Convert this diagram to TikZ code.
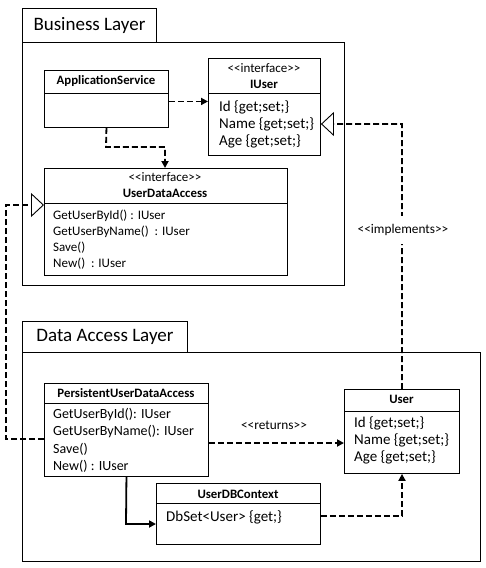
\documentclass[tikz,border=0pt]{standalone}
\usepackage{fontspec}
\setmainfont{Carlito}
\usetikzlibrary{arrows.meta}
\newcommand\lgl{<\kern0pt<}
\newcommand\rgl{>\kern0pt>}
\begin{document}
\begin{tikzpicture}[x=1pt,y=-1pt,
  frame/.style={draw,line width=0.9pt,anchor=north west,inner sep=0pt},
  cls/.style={draw,line width=0.9pt,anchor=north west,inner sep=0pt},
  divider/.style={line width=0.9pt},
  ttl/.style={font=\bfseries\fontsize{12.8}{14}\selectfont,inner sep=0pt},
  stereo/.style={font=\fontsize{13}{14}\selectfont,inner sep=0pt},
  attr/.style={font=\fontsize{15}{17}\selectfont,anchor=west,inner sep=0pt},
  meth/.style={font=\fontsize{13}{15}\selectfont,anchor=west,inner sep=0pt},
  pmeth/.style={font=\fontsize{14}{16}\selectfont,anchor=west,inner sep=0pt},
  layertitle/.style={font=\fontsize{19}{21}\selectfont,inner sep=0pt},
  dep/.style={line width=1.8pt,dash pattern=on 6pt off 3pt,-{Triangle[length=7pt,width=7pt]}},
  real/.style={line width=1.8pt,dash pattern=on 6pt off 3pt,-{Triangle[open,length=13pt,width=24pt,line width=0.9pt]}},
  assoc/.style={line width=1.8pt,-{Triangle[length=7pt,width=7pt]}},
  lbl/.style={font=\fontsize{13.3}{15}\selectfont,inner sep=0pt}
]
\useasboundingbox (0,0) rectangle (486,568);
% ---------- Business layer ----------
\node[frame,minimum width=134pt,minimum height=34pt] (bltab) at (22,8) {};
\node[layertitle] (bltext) at (bltab.center) {Business Layer};
\node[frame,minimum width=322pt,minimum height=243pt] (blframe) at (22,42) {};

% ApplicationService
\node[cls,minimum width=124pt,minimum height=57pt] (as) at (44,70) {};
\draw[divider] (44,93) -- (168,93);
\node[ttl] (astitle) at (106,81) {ApplicationService};

% IUser
\node[cls,minimum width=112pt,minimum height=97pt] (iuser) at (208,58) {};
\draw[divider] (208,93) -- (320,93);
\node[stereo] (iuserst) at (264,68) {\lgl interface\rgl};
\node[ttl] (iusertitle) at (264,84) {IUser};
\node[attr] (iu1) at (219,107) {Id \{get;set;\}};
\node[attr] (iu2) at (219,124) {Name \{get;set;\}};
\node[attr] (iu3) at (219,141) {Age \{get;set;\}};

% UserDataAccess
\node[cls,minimum width=243pt,minimum height=107pt] (uda) at (44,168) {};
\draw[divider] (44,203) -- (287,203);
\node[stereo] (udast) at (165,177) {\lgl interface\rgl};
\node[ttl] (udatitle) at (165,193) {UserDataAccess};
\node[meth] (ud1) at (53,216) {GetUserById() : IUser};
\node[meth] (ud2) at (53,232) {GetUserByName() \ : IUser};
\node[meth] (ud3) at (53,248) {Save()};
\node[meth] (ud4) at (53,264) {New() \ : IUser};

% ---------- Data access layer ----------
\node[frame,minimum width=165pt,minimum height=31pt] (daltab) at (22,321) {};
\node[layertitle] (daltext) at (daltab.center) {Data Access Layer};
\node[frame,minimum width=458pt,minimum height=209pt] (dalframe) at (22,352) {};

% PersistentUserDataAccess
\node[cls,minimum width=164pt,minimum height=93pt] (puda) at (44,383) {};
\draw[divider] (44,403) -- (208,403);
\node[ttl] (pudatitle) at (126,393) {PersistentUserDataAccess};
\node[pmeth] (pu1) at (53,415) {GetUserById(): IUser};
\node[pmeth] (pu2) at (53,432) {GetUserByName(): IUser};
\node[pmeth] (pu3) at (53,449) {Save()};
\node[pmeth] (pu4) at (53,466) {New() : IUser};

% User
\node[cls,minimum width=115pt,minimum height=84pt] (user) at (344,389) {};
\draw[divider] (344,411) -- (459,411);
\node[ttl] (usertitle) at (401.5,399) {User};
\node[attr] (us1) at (354,423) {Id \{get;set;\}};
\node[attr] (us2) at (354,440) {Name \{get;set;\}};
\node[attr] (us3) at (354,457) {Age \{get;set;\}};

% UserDBContext
\node[cls,minimum width=164pt,minimum height=61pt] (udbc) at (156,483) {};
\draw[divider] (156,503) -- (320,503);
\node[ttl] (udbctitle) at (238,494) {UserDBContext};
\node[attr] (udbc1) at (166,517) {DbSet<User> \{get;\}};

% ---------- Connectors ----------
\draw[dep] ([yshift=-2.5pt]as.east) -- ([yshift=-2.5pt]as.east -| iuser.west);
\coordinate (asturn1) at (106,147);
\coordinate (asturn2) at (165,147);
\draw[dep] (as.south) -- (asturn1) -- (asturn2) -- (asturn2 |- uda.north);

\coordinate (implturn) at (402,124);
\draw[real] (user.north) -- (implturn) -- (implturn -| iuser.east);
\node[lbl,fill=white,inner xsep=1pt,inner ysep=8pt] (impllbl) at (403,230) {\lgl implements\rgl};

\coordinate (lb) at (6,439);
\coordinate (lt) at (6,205);
\draw[real] (lb -| puda.west) -- (lb) -- (lt) -- (lt -| uda.west);

\draw[dep] (puda.east |- 0,443) -- (user.west |- 0,443);
\node[lbl] (retlbl) at (274,425) {\lgl returns\rgl};

\coordinate (pturn) at (126,524);
\draw[assoc] (puda.south) -- (pturn) -- (pturn -| udbc.west);

\coordinate (uturn) at (402,516);
\draw[dep] (uturn -| udbc.east) -- (uturn) -- (uturn |- user.south);
\end{tikzpicture}
\end{document}
